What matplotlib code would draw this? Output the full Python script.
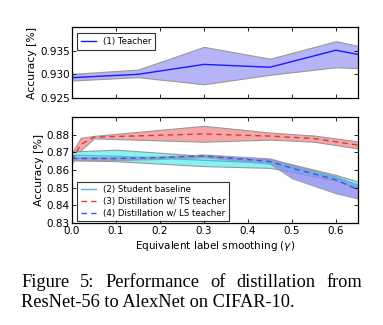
import numpy as np
import matplotlib
matplotlib.use("Agg")
import matplotlib.pyplot as plt

# teacher accuracy (mean and band)
x_teacher = [0.0, 0.15, 0.3, 0.45, 0.6, 0.65]
teacher_mean = [0.9293, 0.9300, 0.9321, 0.9315, 0.9351, 0.9342]
teacher_hi = [0.9301, 0.9310, 0.9358, 0.9333, 0.9370, 0.9360]
teacher_lo = [0.9287, 0.9294, 0.9279, 0.9299, 0.9315, 0.9313]

# student baseline
x_student = [0.0, 0.1, 0.3, 0.45, 0.5, 0.6, 0.65]
student_mean = [0.8683, 0.8678, 0.8655, 0.8638, 0.8612, 0.8558, 0.8515]
student_hi = [0.8705, 0.8715, 0.8680, 0.8660, 0.8632, 0.8572, 0.8535]
student_lo = [0.8655, 0.8650, 0.8622, 0.8612, 0.8590, 0.8540, 0.8495]

# distillation w/ TS teacher
x_ts = [0.0, 0.02, 0.05, 0.3, 0.45, 0.55, 0.65]
ts_mean = [0.8655, 0.8745, 0.8786, 0.8804, 0.8792, 0.8778, 0.8741]
ts_hi = [0.8700, 0.8782, 0.8793, 0.8850, 0.8812, 0.8795, 0.8762]
ts_lo = [0.8640, 0.8712, 0.8779, 0.8760, 0.8772, 0.8760, 0.8722]

# distillation w/ LS teacher
x_ls = [0.0, 0.1, 0.2, 0.3, 0.45, 0.5, 0.6, 0.65]
ls_mean = [0.8665, 0.8665, 0.8670, 0.8680, 0.8648, 0.8610, 0.8545, 0.8488]
ls_hi = [0.8675, 0.8672, 0.8677, 0.8688, 0.8666, 0.8630, 0.8565, 0.8515]
ls_lo = [0.8655, 0.8655, 0.8663, 0.8672, 0.8636, 0.8553, 0.8468, 0.8438]

xticks = [0.0, 0.1, 0.2, 0.3, 0.4, 0.5, 0.6]
caption_1 = 'Figure 5:  Performance of distillation from'
caption_2 = 'ResNet-56 to AlexNet on CIFAR-10.'

plt.rcParams['font.family'] = 'DejaVu Sans'
plt.rcParams['font.size'] = 7

W, H = 383, 325
fig = plt.figure(figsize=(W / 100, H / 100), dpi=100)
ax1 = fig.add_axes([72 / W, 1 - 98 / H, 286 / W, 71 / H])
ax2 = fig.add_axes([72 / W, 1 - 223 / H, 286 / W, 106 / H])

def style(ax):
    ax.tick_params(direction='in', top=True, right=True, length=3, width=0.6,
                   labelsize=7.5, pad=1.5)
    for s in ax.spines.values():
        s.set_linewidth(0.9)
    ax.set_xlim(0, 0.65)
    ax.set_xticks(xticks)

leg_kw = dict(fontsize=6.2, frameon=True, fancybox=False, edgecolor='black',
              borderpad=0.45, handlelength=1.75, handletextpad=0.8,
              labelspacing=0.3, borderaxespad=0)

ax1.fill_between(x_teacher, teacher_lo, teacher_hi, facecolor='#b4b4f6',
                 edgecolor='#999999', linewidth=0.8)
ax1.plot(x_teacher, teacher_mean, color='#1a1aff', lw=1.0, label='(1) Teacher')
style(ax1)
ax1.set_ylim(0.925, 0.940)
ax1.set_yticks([0.925, 0.930, 0.935])
ax1.set_xticklabels([])
ax1.set_ylabel('Accuracy [%]', fontsize=7.8, labelpad=2)
leg = ax1.legend(loc='upper left', bbox_to_anchor=(5 / 286, 1 - 6 / 71), **leg_kw)
leg.get_frame().set_linewidth(0.8)

ax2.fill_between(x_ts, ts_lo, ts_hi, facecolor='#f6a6a6', edgecolor='#999999',
                 linewidth=0.8)
ax2.fill_between(x_student, student_lo, student_hi, facecolor='#86f2f2',
                 edgecolor='#999999', linewidth=0.8)
ax2.fill_between(x_ls, ls_lo, ls_hi, facecolor='#8c8cf0', edgecolor='#999999',
                 linewidth=0.8, alpha=0.8)
ax2.plot(x_student, student_mean, color='#5ab8dc', lw=1.0,
         label='(2) Student baseline')
ax2.plot(x_ts, ts_mean, color='#d83a3a', lw=1.0, ls=(0, (4, 3)),
         label='(3) Distillation w/ TS teacher')
ax2.plot(x_ls, ls_mean, color='#3c5cc4', lw=1.0, ls=(0, (4, 3)),
         label='(4) Distillation w/ LS teacher')
style(ax2)
ax2.tick_params(axis='x', pad=2.5)
ax2.set_ylim(0.83, 0.89)
ax2.set_yticks([0.83, 0.84, 0.85, 0.86, 0.87, 0.88])
ax2.set_ylabel('Accuracy [%]', fontsize=7.8, labelpad=2)
ax2.set_xlabel(r'Equivalent label smoothing ($\gamma$)', fontsize=7.5, labelpad=2)
leg2 = ax2.legend(loc='lower left', bbox_to_anchor=(5 / 286, 1.5 / 106), **leg_kw)
leg2.get_frame().set_linewidth(0.8)

# caption, first line justified between x=21 and x=362
cap_kw = dict(family='Liberation Serif', fontsize=13.2, va='baseline')
renderer = fig.canvas.get_renderer()
words = caption_1.split()
texts = [fig.text(0, 1 - 287 / H, w, **cap_kw) for w in words]
widths = [t.get_window_extent(renderer).width for t in texts]
gap = (362 - 21 - sum(widths)) / (len(words) - 1)
pos = 21
for t, wd in zip(texts, widths):
    t.set_x(pos / W)
    pos += wd + gap
fig.text(21 / W, 1 - 307 / H, caption_2, **cap_kw)

fig.savefig('out.png', dpi=100, facecolor='white')
